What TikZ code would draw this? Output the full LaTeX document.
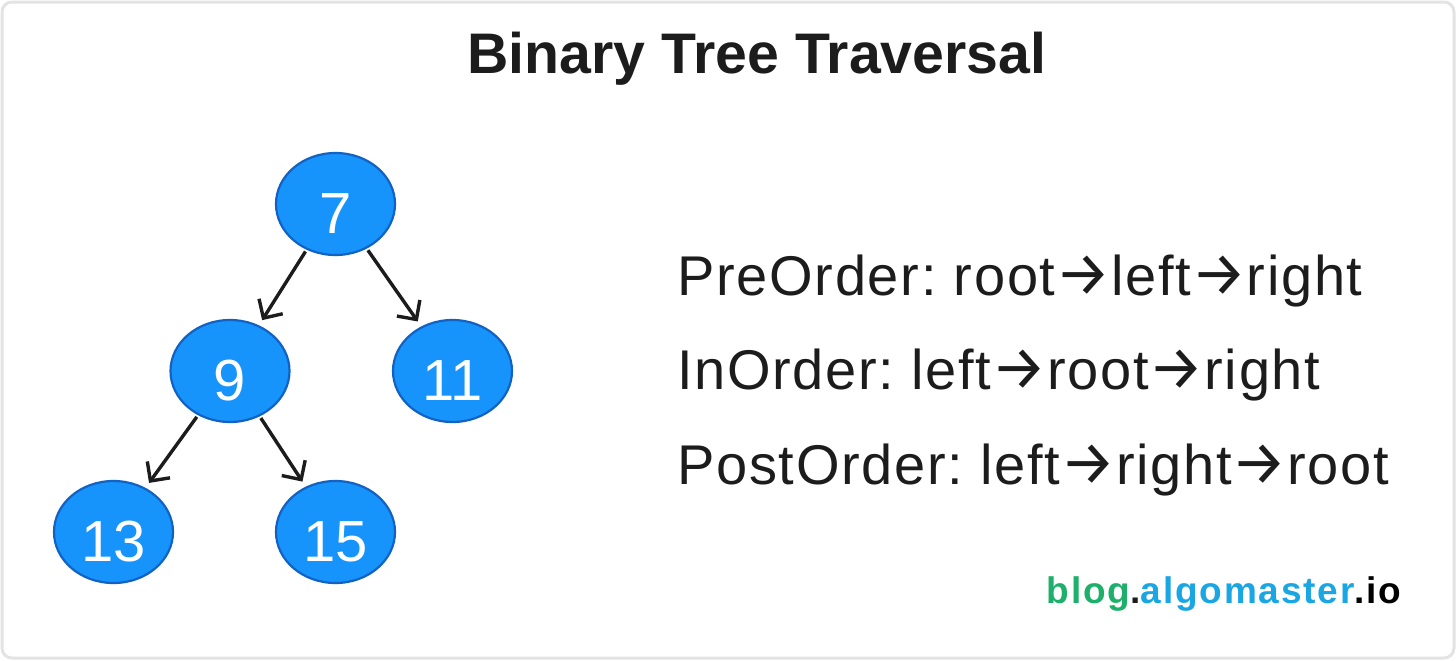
\documentclass[tikz,border=0pt]{standalone}
\usepackage{fontspec}
\setmainfont{Liberation Sans}
\newfontfamily\arrowfont{Fira Sans}
\newcommand{\torarr}{{\arrowfont\fontsize{31}{31}\selectfont →}}
\usetikzlibrary{shapes.geometric,arrows.meta}
\definecolor{nodefill}{HTML}{1794FC}
\definecolor{nodeline}{HTML}{1262C4}
\definecolor{framegray}{HTML}{E3E3E3}
\definecolor{textdark}{HTML}{1C1C1C}
\definecolor{blogGreen}{HTML}{1CB06B}
\definecolor{blogBlue}{HTML}{1AA5E3}
\frenchspacing
\begin{document}
\begin{tikzpicture}[x=0.5pt, y=-0.5pt,
  treenode/.style={draw=nodeline, line width=1.1pt, fill=nodefill, shape=ellipse,
    inner sep=0pt, minimum width=59.5pt, minimum height=51pt, text=white,
    font=\fontsize{29}{29}\selectfont, text height=29pt, text depth=0pt},
  treeedge/.style={-{Straight Barb[length=7pt, width=14pt]}, line width=1.7pt,
    textdark, shorten >=3pt, shorten <=1pt},
  order/.style={anchor=base west, inner sep=0pt, text=textdark,
    font=\fontsize{28}{28}\selectfont\addfontfeatures{LetterSpace=3}}]
\useasboundingbox (0,0) rectangle (1456,660);
\draw[framegray, line width=1.5pt, rounded corners=5pt] (2,2) rectangle (1454,658);
\node (title) [anchor=base, text=textdark, font=\bfseries\fontsize{28.6}{28.6}\selectfont]
  at (757,73) {Binary Tree Traversal};
\node (n7) [treenode] at (335.5,204) {7};
\node (n9) [treenode] at (230,371) {9};
\node (n11) [treenode] at (452.5,371) {11};
\node (n13) [treenode] at (113.5,532) {13};
\node (n15) [treenode] at (335.5,532) {15};
\draw[treeedge] (n7) -- (n9);
\draw[treeedge] (n7) -- (n11);
\draw[treeedge] (n9) -- (n13);
\draw[treeedge] (n9) -- (n15);
\node (pre) [order] at (677,295) {PreOrder: root\torarr left\torarr right};
\node (in) [order] at (677,389) {InOrder: left\torarr root\torarr right};
\node (post) [order] at (677,484) {PostOrder: left\torarr right\torarr root};
\node (blog) [anchor=base east, inner sep=0pt,
  font=\bfseries\fontsize{18.5}{18.5}\selectfont\addfontfeatures{LetterSpace=5}]
  at (1402,603) {\textcolor{blogGreen}{blog}\textcolor{textdark}{.}\textcolor{blogBlue}{algomaster}\textcolor{black}{.io}};
\end{tikzpicture}
\end{document}
